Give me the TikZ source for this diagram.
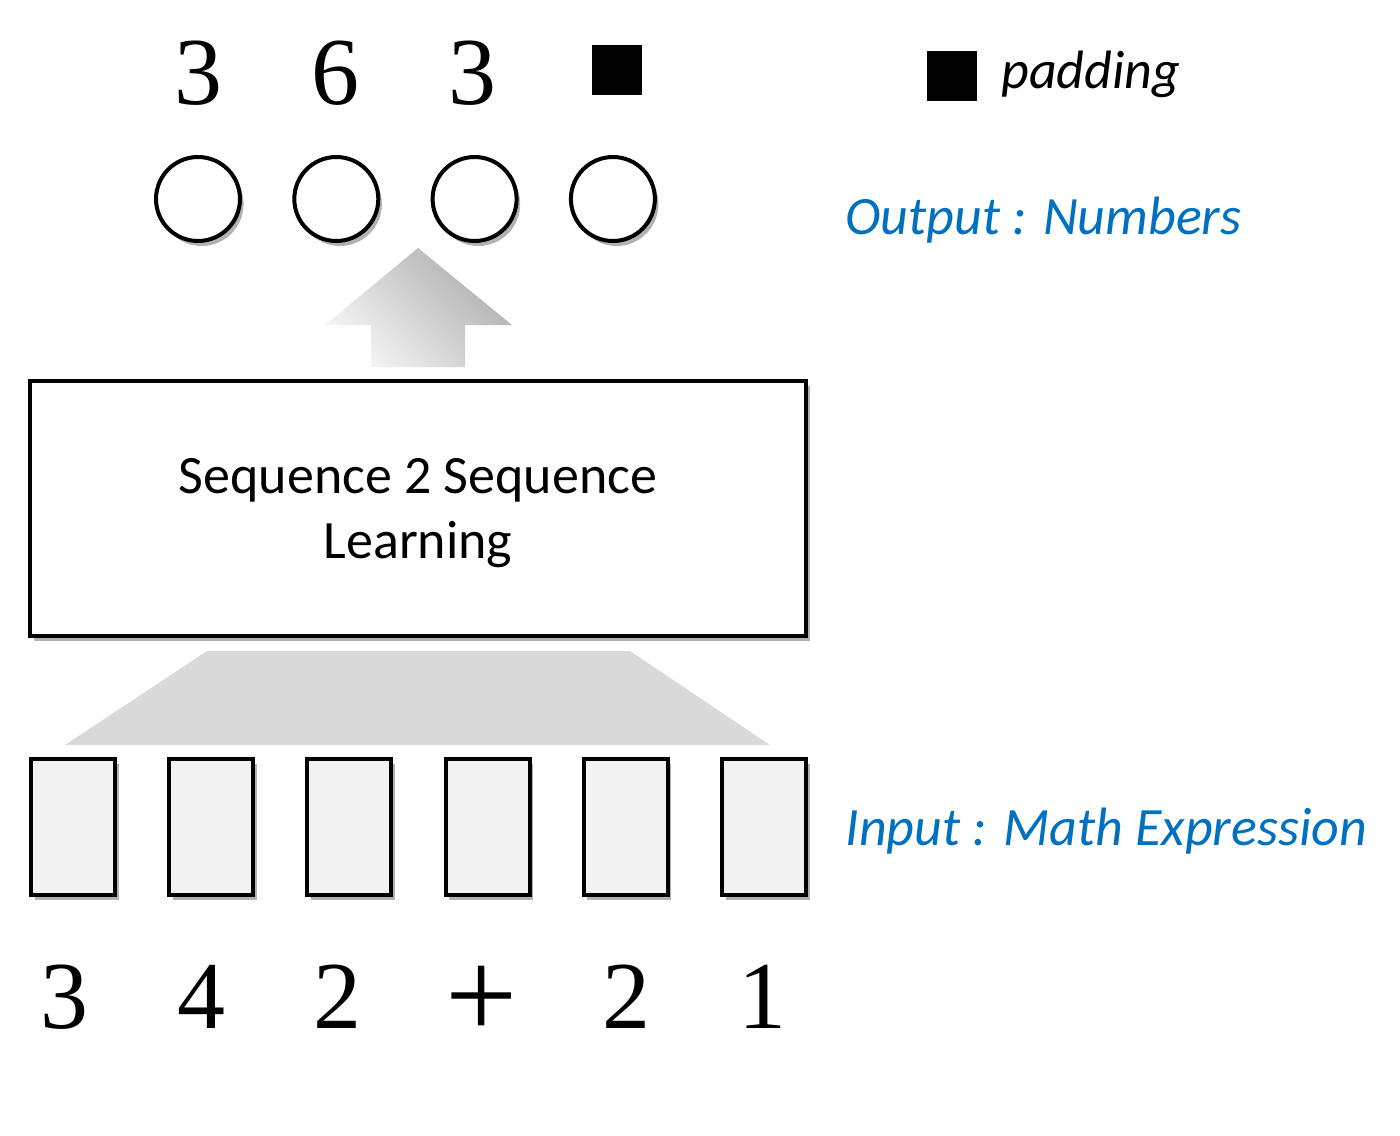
\documentclass[tikz,border=0pt]{standalone}
\usepackage{fontspec}
\newfontfamily\calibri{Carlito}
\newfontfamily\cambria{Liberation Serif}
\usepackage{tikz}
\usetikzlibrary{shadows}
\definecolor{labelblue}{HTML}{0070C0}
\definecolor{tokengray}{HTML}{F2F2F2}
\definecolor{funnelgray}{HTML}{D9D9D9}

\begin{document}
\begin{tikzpicture}[x=0.5pt,y=-0.5pt,
	softshadow/.style={drop shadow={shadow xshift=1.8pt,shadow yshift=-2.5pt,opacity=0.3,fill=black}},
	unit/.style={circle,draw,line width=2pt,fill=white,minimum size=42pt,inner sep=0pt,softshadow},
	token/.style={rectangle,draw,line width=2pt,fill=tokengray,minimum width=42pt,minimum height=68pt,inner sep=0pt,softshadow},
	digit/.style={inner sep=0pt,font=\cambria\fontsize{48}{58}\selectfont},
	padbox/.style={fill=black,minimum size=25pt,inner sep=0pt},
	note/.style={inner sep=0pt,anchor=base west,font=\calibri\itshape\fontsize{27}{32}\selectfont}
	]
	\useasboundingbox (0,0) rectangle (1400,1135);

	% output layer
	\foreach \i/\d in {1/3,2/6,3/3}
		\node[digit] (d\i) at ({198+137*(\i-1)},73) {\d};
	\node[padbox] (pad) at (617,70) {};
	\foreach \i in {1,...,4}
		\node[unit] (o\i) at ({198+138.3*(\i-1)},199) {};

	% arrow up
	\shade[shading=axis,top color=black!32,bottom color=black!4,shading angle=-45]
		(418,248) -- (512,325) -- (465,325) -- (465,367) -- (371,367) -- (371,325) -- (325,325) -- cycle;

	% model
	\node[rectangle,draw,line width=2pt,fill=white,minimum width=388pt,minimum height=127.5pt,softshadow]
		(seq) at (418,508.5) {};
	\node[align=center,font=\calibri\fontsize{27}{32.5}\selectfont] (seqtext) at ([yshift=-2.5pt]seq.center)
		{Sequence 2 Sequence\\Learning};

	% funnel
	\fill[funnelgray] (207,651) -- (630,651) -- (770,745) -- (65,745) -- cycle;

	% input layer
	\foreach \i in {1,...,6}
		\node[token] (i\i) at ({73+138.2*(\i-1)},827) {};
	\foreach \x/\y/\d/\s [count=\i] in {64/997/3/48,201/997/4/48,337/997/2/48,482/1002/+/64,626/997/2/48,762/997/1/48}
		\node[digit] (e\i) at (\x,\y) {\fontsize{\s}{\s}\selectfont\d};

	% legend and labels
	\node[padbox] (legend) at (952,76) {};
	\node[note] (padlabel) at (1001,88) {padding};
	\node[note,text=labelblue] (outlabel) at (845,234) {Output : Numbers};
	\node[note,text=labelblue] (inlabel) at (845,845) {Input : Math Expression};
\end{tikzpicture}
\end{document}
